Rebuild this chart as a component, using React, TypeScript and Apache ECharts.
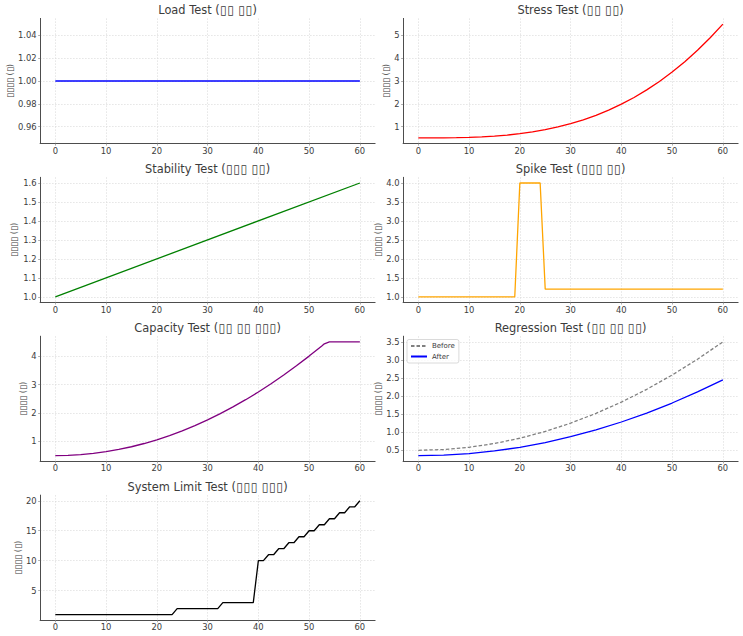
import React, { useEffect, useRef } from 'react';
import * as echarts from 'echarts';

// ---- data ----
const xTicks = [0, 10, 20, 30, 40, 50, 60];

const loadX = [0, 60];
const loadY = [1.0, 1.0];

const stressX = [0, 2.5, 5, 7.5, 10, 12.5, 15, 17.5, 20, 22.5, 25, 27.5, 30, 32.5, 35, 37.5, 40, 42.5, 45, 47.5, 50, 52.5, 55, 57.5, 60];
const stressY = [0.5, 0.5, 0.503, 0.51, 0.523, 0.545, 0.578, 0.624, 0.685, 0.764, 0.862, 0.981, 1.125, 1.295, 1.492, 1.721, 1.981, 2.277, 2.609, 2.981, 3.394, 3.85, 4.351, 4.901, 5.5];

const stabilityX = [0, 60];
const stabilityY = [1.0, 1.6];

const spikeX = [0, 19, 20, 24, 25, 60];
const spikeY = [1.0, 1.0, 4.0, 4.0, 1.2, 1.2];

const capacityX = [0, 2.5, 5, 7.5, 10, 12.5, 15, 17.5, 20, 22.5, 25, 27.5, 30, 32.5, 35, 37.5, 40, 42.5, 45, 47.5, 50, 52.5, 53, 54, 60];
const capacityY = [0.5, 0.509, 0.535, 0.579, 0.64, 0.719, 0.815, 0.929, 1.06, 1.209, 1.375, 1.559, 1.76, 1.979, 2.215, 2.469, 2.74, 3.029, 3.335, 3.659, 4.0, 4.359, 4.433, 4.5, 4.5];

const regX = [0, 5, 10, 15, 20, 25, 30, 35, 40, 45, 50, 55, 60];
const beforeY = [0.5, 0.521, 0.583, 0.688, 0.833, 1.021, 1.25, 1.521, 1.833, 2.188, 2.583, 3.021, 3.5];
const afterY = [0.35, 0.365, 0.408, 0.481, 0.583, 0.715, 0.875, 1.065, 1.283, 1.531, 1.808, 2.115, 2.45];

const sysX = [0, 23, 24, 32, 33, 39, 40, 41, 42, 43, 44, 45, 46, 47, 48, 49, 50, 51, 52, 53, 54, 55, 56, 57, 58, 59, 60];
const sysY = [1, 1, 2, 2, 3, 3, 10, 10, 11, 11, 12, 12, 13, 13, 14, 14, 15, 15, 16, 16, 17, 17, 18, 18, 19, 19, 20];

const loadTicks = [0.96, 0.98, 1.0, 1.02, 1.04];
const stressTicks = [1, 2, 3, 4, 5];
const stabilityTicks = [1.0, 1.1, 1.2, 1.3, 1.4, 1.5, 1.6];
const spikeTicks = [1.0, 1.5, 2.0, 2.5, 3.0, 3.5, 4.0];
const capacityTicks = [1, 2, 3, 4];
const regTicks = [0.5, 1.0, 1.5, 2.0, 2.5, 3.0, 3.5];
const sysTicks = [5, 10, 15, 20];

// missing-glyph boxes, as they appear in the reference
const tofu = (n: number, style: string) => Array.from({ length: n }, () => `{${style}|▯}`).join('');
const T = (n: number) => tofu(n, 'b');

const titles = [
  `Load Test (${T(2)} ${T(2)})`,
  `Stress Test (${T(2)} ${T(2)})`,
  `Stability Test (${T(3)} ${T(2)})`,
  `Spike Test (${T(3)} ${T(2)})`,
  `Capacity Test (${T(2)} ${T(2)} ${T(3)})`,
  `Regression Test (${T(2)} ${T(2)} ${T(2)})`,
  `System Limit Test (${T(3)} ${T(3)})`,
];
const yName = `${tofu(4, 'n')} (${tofu(1, 'n')})`;

const pairs = (xs: number[], ys: number[]) => xs.map((x, i) => [x, ys[i]]);

interface Panel {
  col: number;
  row: number;
  yMin: number;
  yMax: number;
  ticks: number[];
  dec: number;
  gap: number;
  series: { name?: string; x: number[]; y: number[]; color: string; dash?: boolean }[];
}

const panels: Panel[] = [
  { col: 0, row: 0, yMin: 0.945, yMax: 1.055, ticks: loadTicks, dec: 2, gap: 26,
    series: [{ x: loadX, y: loadY, color: '#0000ff' }] },
  { col: 1, row: 0, yMin: 0.25, yMax: 5.75, ticks: stressTicks, dec: 0, gap: 12.5,
    series: [{ x: stressX, y: stressY, color: '#ff0000' }] },
  { col: 0, row: 1, yMin: 0.97, yMax: 1.63, ticks: stabilityTicks, dec: 1, gap: 21.5,
    series: [{ x: stabilityX, y: stabilityY, color: '#008000' }] },
  { col: 1, row: 1, yMin: 0.85, yMax: 4.15, ticks: spikeTicks, dec: 1, gap: 21,
    series: [{ x: spikeX, y: spikeY, color: '#ffa500' }] },
  { col: 0, row: 2, yMin: 0.3, yMax: 4.7, ticks: capacityTicks, dec: 0, gap: 12.5,
    series: [{ x: capacityX, y: capacityY, color: '#800080' }] },
  { col: 1, row: 2, yMin: 0.1925, yMax: 3.6575, ticks: regTicks, dec: 1, gap: 21,
    series: [
      { name: 'Before', x: regX, y: beforeY, color: '#808080', dash: true },
      { name: 'After', x: regX, y: afterY, color: '#0000ff' },
    ] },
  { col: 0, row: 3, yMin: 0.05, yMax: 20.95, ticks: sysTicks, dec: 0, gap: 18,
    series: [{ x: sysX, y: sysY, color: '#000000' }] },
];

// ---- layout ----
const colLeft = [40.1, 403.1];
const gridW = 335;
const rowTop = [18.4, 177.3, 336.2, 495.1];
const gridH = 125.2;

const FONT = 'DejaVu Sans';
const TXT = '#3c3c3c';
const SPINE = '#4d4d4d';
const GRIDC = '#dadada';

export default function App() {
  const ref = useRef<HTMLDivElement>(null);

  useEffect(() => {
    if (!ref.current) return;
    const chart = echarts.init(ref.current, undefined, { renderer: 'svg' });

    const grid: any[] = [];
    const xAxis: any[] = [];
    const yAxis: any[] = [];
    const title: any[] = [];
    const series: any[] = [];

    panels.forEach((p, i) => {
      const left = colLeft[p.col];
      const top = rowTop[p.row];
      grid.push({ left, top, width: gridW, height: gridH, containLabel: false });
      title.push({
        text: titles[i],
        left: left + gridW / 2,
        top: top - 14.5,
        textAlign: 'center',
        padding: 0,
        textStyle: {
          fontFamily: FONT,
          fontSize: 11.4,
          fontWeight: 'normal',
          color: TXT,
          rich: { b: { fontFamily: FONT, fontSize: 12, width: 7.3, align: 'center', color: TXT } },
        },
      });
      xAxis.push({
        type: 'value',
        gridIndex: i,
        min: -3,
        max: 63,
        axisLine: { show: true, onZero: false, lineStyle: { color: SPINE, width: 1 } },
        axisTick: { show: true, length: 2, customValues: xTicks, lineStyle: { color: '#9a9a9a', width: 0.8 } },
        axisLabel: { customValues: xTicks, fontFamily: FONT, fontSize: 8.4, color: TXT, margin: 3 },
        splitLine: { show: true, lineStyle: { color: GRIDC, width: 0.7, type: [1.5, 1.5] } },
      });
      yAxis.push({
        type: 'value',
        gridIndex: i,
        min: p.yMin,
        max: p.yMax,
        name: yName,
        nameLocation: 'middle',
        nameGap: p.gap,
        nameTextStyle: {
          fontFamily: FONT,
          fontSize: 8.4,
          color: TXT,
          rich: { n: { fontFamily: FONT, fontSize: 8.8, width: 5, align: 'center', color: TXT } },
        },
        axisLine: { show: true, onZero: false, lineStyle: { color: SPINE, width: 1 } },
        axisTick: { show: true, length: 2, customValues: p.ticks, lineStyle: { color: '#9a9a9a', width: 0.8 } },
        axisLabel: {
          customValues: p.ticks,
          fontFamily: FONT,
          fontSize: 8.4,
          color: TXT,
          margin: 3.5,
          formatter: (v: number) => v.toFixed(p.dec),
        },
        splitLine: { show: true, lineStyle: { color: GRIDC, width: 0.7, type: [1.5, 1.5] } },
      });
      p.series.forEach((s) => {
        series.push({
          type: 'line',
          name: s.name,
          xAxisIndex: i,
          yAxisIndex: i,
          data: pairs(s.x, s.y),
          symbol: 'none',
          showSymbol: false,
          color: s.color,
          lineStyle: { color: s.color, width: 1.3, type: s.dash ? [3.5, 2] : 'solid' },
        });
      });
    });

    chart.setOption({
      animation: false,
      backgroundColor: '#ffffff',
      textStyle: { fontFamily: FONT },
      title,
      grid,
      xAxis,
      yAxis,
      legend: {
        data: ['Before', 'After'],
        orient: 'vertical',
        left: 407,
        top: 339.5,
        padding: [3, 4, 3, 3],
        itemGap: 3.5,
        itemWidth: 16,
        itemHeight: 7,
        itemStyle: { opacity: 0 },
        backgroundColor: 'rgba(255,255,255,0.8)',
        borderColor: '#d0d0d0',
        borderWidth: 0.8,
        borderRadius: 2,
        textStyle: { fontFamily: FONT, fontSize: 7, color: TXT },
      },
      series,
    });

    return () => chart.dispose();
  }, []);

  return (
    <div
      ref={ref}
      style={{ position: 'absolute', left: 0, top: 0, width: 743, height: 636, background: '#fff' }}
    />
  );
}
